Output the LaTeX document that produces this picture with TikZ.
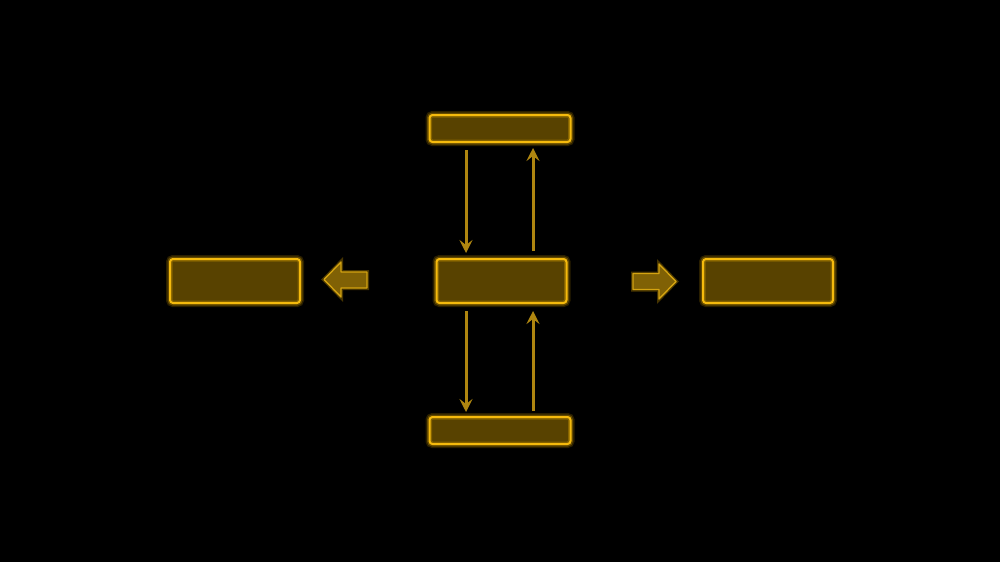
\documentclass[tikz,border=0pt]{standalone}
\usetikzlibrary{arrows.meta}
\definecolor{goldline}{RGB}{250,192,20}
\definecolor{goldfill}{RGB}{88,66,0}
\definecolor{goldglow}{RGB}{235,175,0}
\definecolor{arrowgold}{RGB}{175,134,16}
\tikzset{
  gbox/.style={draw=goldline, line width=2pt, fill=goldfill, rounded corners=3pt,
    inner sep=0pt, outer sep=0pt,
    preaction={draw=goldglow, line width=8pt, opacity=0.18, rounded corners=3pt},
    postaction={draw=goldglow, line width=5pt, opacity=0.3, rounded corners=3pt}},
  thinarrow/.style={draw=arrowgold, line width=3pt,
    -{Stealth[length=13pt,width=13pt,inset=5pt]}},
  blockarrow/.style={draw=goldline!85!black, line width=1.4pt, fill=goldfill!75!goldline, line join=round,
    preaction={draw=goldglow, line width=4pt, opacity=0.3}}
}
\begin{document}
\begin{tikzpicture}[x=1pt,y=-1pt]
\fill[black] (0,0) rectangle (1000,562);
\useasboundingbox (0,0) rectangle (1000,562);

\node[gbox, minimum width=141pt, minimum height=27pt] (top) at (500,128.5) {};
\node[gbox, minimum width=141pt, minimum height=27pt] (bot) at (500,430.5) {};
\node[gbox, minimum width=130pt, minimum height=44pt] (mid) at (501.5,281) {};
\node[gbox, minimum width=130pt, minimum height=44pt] (left) at (235,281) {};
\node[gbox, minimum width=130pt, minimum height=44pt] (right) at (768,281) {};

% thin arrows
\draw[thinarrow, shorten <=8pt, shorten >=6pt] ([xshift=-34pt]top.south) -- ([xshift=-35.5pt]mid.north);
\draw[thinarrow, shorten <=8pt, shorten >=6pt] ([xshift=31.5pt]mid.north) -- ([xshift=33pt]top.south);
\draw[thinarrow, shorten <=8pt, shorten >=5pt] ([xshift=-35.5pt]mid.south) -- ([xshift=-34pt]bot.north);
\draw[thinarrow, shorten <=6pt, shorten >=8pt] ([xshift=33pt]bot.north) -- ([xshift=31.5pt]mid.south);

% block arrows
\draw[blockarrow] (367,272) -- (341,272) -- (341,262) -- (324,279.5) -- (341,297) -- (341,288) -- (367,288) -- cycle;
\draw[blockarrow] (633,273.5) -- (659,273.5) -- (659,264) -- (676,281.5) -- (659,299) -- (659,289.5) -- (633,289.5) -- cycle;
\end{tikzpicture}
\end{document}
